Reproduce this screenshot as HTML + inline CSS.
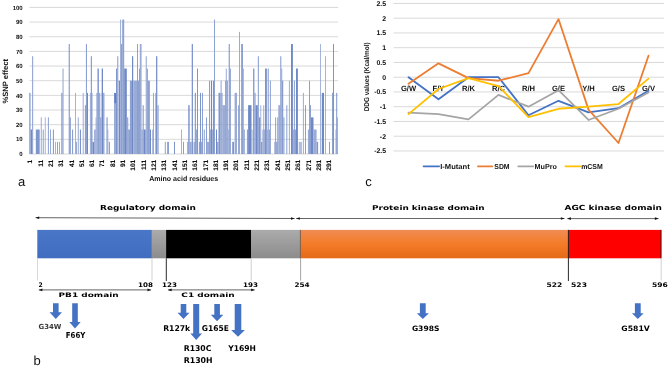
<!DOCTYPE html>
<html><head><meta charset="utf-8"><title>Figure</title>
<style>
html,body{margin:0;padding:0;background:#fff;}
body{width:669px;height:366px;overflow:hidden;}
svg{display:block;font-family:'Liberation Sans', Arial, sans-serif;}
</style></head><body>
<svg width="669" height="366" viewBox="0 0 669 366" font-family='"Liberation Sans", Arial, sans-serif' text-rendering="geometricPrecision">
<rect x="0" y="0" width="669" height="366" fill="#ffffff"/>
<rect x="29.5" y="6.90" width="308.7" height="1" fill="#d9d9d9"/>
<text x="22.7" y="9.55" font-size="6.0" font-weight="bold" text-anchor="end" fill="#111" >100</text>
<rect x="29.5" y="21.56" width="308.7" height="1" fill="#d9d9d9"/>
<text x="22.7" y="24.21" font-size="6.0" font-weight="bold" text-anchor="end" fill="#111" >90</text>
<rect x="29.5" y="36.22" width="308.7" height="1" fill="#d9d9d9"/>
<text x="22.7" y="38.87" font-size="6.0" font-weight="bold" text-anchor="end" fill="#111" >80</text>
<rect x="29.5" y="50.88" width="308.7" height="1" fill="#d9d9d9"/>
<text x="22.7" y="53.53" font-size="6.0" font-weight="bold" text-anchor="end" fill="#111" >70</text>
<rect x="29.5" y="65.54" width="308.7" height="1" fill="#d9d9d9"/>
<text x="22.7" y="68.19" font-size="6.0" font-weight="bold" text-anchor="end" fill="#111" >60</text>
<rect x="29.5" y="80.20" width="308.7" height="1" fill="#d9d9d9"/>
<text x="22.7" y="82.85" font-size="6.0" font-weight="bold" text-anchor="end" fill="#111" >50</text>
<rect x="29.5" y="94.86" width="308.7" height="1" fill="#d9d9d9"/>
<text x="22.7" y="97.51" font-size="6.0" font-weight="bold" text-anchor="end" fill="#111" >40</text>
<rect x="29.5" y="109.52" width="308.7" height="1" fill="#d9d9d9"/>
<text x="22.7" y="112.17" font-size="6.0" font-weight="bold" text-anchor="end" fill="#111" >30</text>
<rect x="29.5" y="124.18" width="308.7" height="1" fill="#d9d9d9"/>
<text x="22.7" y="126.83" font-size="6.0" font-weight="bold" text-anchor="end" fill="#111" >20</text>
<rect x="29.5" y="138.84" width="308.7" height="1" fill="#d9d9d9"/>
<text x="22.7" y="141.49" font-size="6.0" font-weight="bold" text-anchor="end" fill="#111" >10</text>
<rect x="29.5" y="153.50" width="308.7" height="1" fill="#d9d9d9"/>
<text x="22.7" y="156.15" font-size="6.0" font-weight="bold" text-anchor="end" fill="#111" >0</text>
<rect x="29.20" y="92.87" width="1.40" height="61.13" fill="#8ea2d2"/>
<rect x="30.60" y="129.52" width="1.40" height="24.48" fill="#6f89c6"/>
<rect x="32.00" y="56.22" width="1.20" height="97.78" fill="#9aabd6"/>
<rect x="35.80" y="129.52" width="3.90" height="24.48" fill="#7f96cc"/>
<rect x="40.80" y="117.35" width="0.90" height="36.65" fill="#8ea2d2"/>
<rect x="42.80" y="129.52" width="0.80" height="24.48" fill="#6f89c6"/>
<rect x="44.80" y="117.35" width="0.90" height="36.65" fill="#9aabd6"/>
<rect x="47.90" y="117.35" width="0.90" height="36.65" fill="#7f96cc"/>
<rect x="50.10" y="129.52" width="0.90" height="24.48" fill="#8ea2d2"/>
<rect x="52.90" y="129.52" width="0.90" height="24.48" fill="#6f89c6"/>
<rect x="55.10" y="141.83" width="0.90" height="12.17" fill="#9aabd6"/>
<rect x="57.10" y="141.83" width="0.90" height="12.17" fill="#7f96cc"/>
<rect x="59.10" y="141.83" width="0.90" height="12.17" fill="#8ea2d2"/>
<rect x="61.40" y="92.87" width="1.10" height="61.13" fill="#6f89c6"/>
<rect x="62.50" y="68.53" width="1.10" height="85.47" fill="#9aabd6"/>
<rect x="68.70" y="44.05" width="1.10" height="109.95" fill="#7f96cc"/>
<rect x="69.80" y="117.35" width="1.10" height="36.65" fill="#8ea2d2"/>
<rect x="72.20" y="129.52" width="0.90" height="24.48" fill="#6f89c6"/>
<rect x="75.00" y="92.87" width="0.90" height="61.13" fill="#9aabd6"/>
<rect x="75.90" y="141.83" width="0.90" height="12.17" fill="#7f96cc"/>
<rect x="77.80" y="117.35" width="0.90" height="36.65" fill="#8ea2d2"/>
<rect x="79.90" y="129.52" width="1.00" height="24.48" fill="#6f89c6"/>
<rect x="82.70" y="92.87" width="1.00" height="61.13" fill="#9aabd6"/>
<rect x="84.90" y="105.18" width="1.00" height="48.82" fill="#7f96cc"/>
<rect x="85.90" y="44.05" width="1.10" height="109.95" fill="#8ea2d2"/>
<rect x="87.00" y="92.87" width="1.00" height="61.13" fill="#6f89c6"/>
<rect x="89.90" y="92.87" width="0.90" height="61.13" fill="#9aabd6"/>
<rect x="90.80" y="56.22" width="1.10" height="97.78" fill="#7f96cc"/>
<rect x="91.90" y="92.87" width="0.60" height="61.13" fill="#8ea2d2"/>
<rect x="92.50" y="141.83" width="1.60" height="12.17" fill="#6f89c6"/>
<rect x="94.10" y="129.52" width="1.60" height="24.48" fill="#9aabd6"/>
<rect x="95.70" y="117.35" width="0.70" height="36.65" fill="#7f96cc"/>
<rect x="96.40" y="92.87" width="1.10" height="61.13" fill="#8ea2d2"/>
<rect x="97.50" y="68.53" width="1.30" height="85.47" fill="#6f89c6"/>
<rect x="98.80" y="92.87" width="1.50" height="61.13" fill="#9aabd6"/>
<rect x="100.30" y="117.35" width="1.10" height="36.65" fill="#7f96cc"/>
<rect x="101.40" y="92.87" width="0.30" height="61.13" fill="#8ea2d2"/>
<rect x="101.70" y="68.53" width="1.30" height="85.47" fill="#6f89c6"/>
<rect x="103.00" y="92.87" width="1.50" height="61.13" fill="#9aabd6"/>
<rect x="106.50" y="117.35" width="1.10" height="36.65" fill="#7f96cc"/>
<rect x="107.60" y="129.52" width="0.70" height="24.48" fill="#8ea2d2"/>
<rect x="108.90" y="141.83" width="0.90" height="12.17" fill="#6f89c6"/>
<rect x="114.00" y="92.87" width="2.00" height="61.13" fill="#9aabd6"/>
<rect x="116.00" y="68.53" width="1.20" height="85.47" fill="#7f96cc"/>
<rect x="117.20" y="56.22" width="1.10" height="97.78" fill="#8ea2d2"/>
<rect x="118.70" y="80.70" width="1.40" height="73.30" fill="#6f89c6"/>
<rect x="120.10" y="19.57" width="1.00" height="134.43" fill="#9aabd6"/>
<rect x="121.10" y="44.05" width="1.10" height="109.95" fill="#7f96cc"/>
<rect x="122.20" y="19.57" width="2.00" height="134.43" fill="#8ea2d2"/>
<rect x="124.20" y="68.53" width="2.60" height="85.47" fill="#6f89c6"/>
<rect x="126.80" y="117.35" width="1.50" height="36.65" fill="#9aabd6"/>
<rect x="128.30" y="129.52" width="1.60" height="24.48" fill="#7f96cc"/>
<rect x="129.90" y="80.70" width="2.10" height="73.30" fill="#8ea2d2"/>
<rect x="132.00" y="56.22" width="1.20" height="97.78" fill="#6f89c6"/>
<rect x="133.20" y="80.70" width="3.80" height="73.30" fill="#9aabd6"/>
<rect x="137.00" y="44.05" width="0.90" height="109.95" fill="#7f96cc"/>
<rect x="137.90" y="80.70" width="1.10" height="73.30" fill="#8ea2d2"/>
<rect x="139.00" y="68.53" width="0.80" height="85.47" fill="#6f89c6"/>
<rect x="139.80" y="44.05" width="1.80" height="109.95" fill="#9aabd6"/>
<rect x="141.60" y="129.52" width="1.00" height="24.48" fill="#7f96cc"/>
<rect x="142.60" y="105.18" width="1.20" height="48.82" fill="#8ea2d2"/>
<rect x="143.80" y="129.52" width="1.90" height="24.48" fill="#6f89c6"/>
<rect x="145.70" y="56.22" width="1.10" height="97.78" fill="#9aabd6"/>
<rect x="146.80" y="68.53" width="1.00" height="85.47" fill="#7f96cc"/>
<rect x="147.80" y="80.70" width="2.10" height="73.30" fill="#8ea2d2"/>
<rect x="150.00" y="129.52" width="1.00" height="24.48" fill="#6f89c6"/>
<rect x="152.20" y="129.52" width="0.80" height="24.48" fill="#9aabd6"/>
<rect x="153.00" y="92.87" width="0.80" height="61.13" fill="#7f96cc"/>
<rect x="155.30" y="92.87" width="0.80" height="61.13" fill="#8ea2d2"/>
<rect x="156.10" y="56.22" width="1.20" height="97.78" fill="#6f89c6"/>
<rect x="157.30" y="105.18" width="1.40" height="48.82" fill="#9aabd6"/>
<rect x="164.80" y="141.83" width="0.90" height="12.17" fill="#7f96cc"/>
<rect x="167.10" y="141.83" width="1.90" height="12.17" fill="#8ea2d2"/>
<rect x="174.00" y="141.83" width="0.90" height="12.17" fill="#6f89c6"/>
<rect x="181.00" y="129.52" width="0.90" height="24.48" fill="#9aabd6"/>
<rect x="183.00" y="141.83" width="0.90" height="12.17" fill="#7f96cc"/>
<rect x="187.20" y="141.83" width="1.10" height="12.17" fill="#8ea2d2"/>
<rect x="188.30" y="105.18" width="1.30" height="48.82" fill="#6f89c6"/>
<rect x="189.60" y="141.83" width="2.10" height="12.17" fill="#9aabd6"/>
<rect x="191.70" y="44.05" width="1.30" height="109.95" fill="#7f96cc"/>
<rect x="193.60" y="141.83" width="1.20" height="12.17" fill="#8ea2d2"/>
<rect x="194.80" y="92.87" width="1.00" height="61.13" fill="#6f89c6"/>
<rect x="195.80" y="129.52" width="1.20" height="24.48" fill="#9aabd6"/>
<rect x="197.00" y="68.53" width="1.00" height="85.47" fill="#7f96cc"/>
<rect x="198.90" y="141.83" width="1.10" height="12.17" fill="#8ea2d2"/>
<rect x="200.00" y="92.87" width="0.90" height="61.13" fill="#6f89c6"/>
<rect x="200.90" y="141.83" width="1.10" height="12.17" fill="#9aabd6"/>
<rect x="202.00" y="92.87" width="0.90" height="61.13" fill="#7f96cc"/>
<rect x="203.80" y="129.52" width="1.00" height="24.48" fill="#8ea2d2"/>
<rect x="206.00" y="117.35" width="0.80" height="36.65" fill="#6f89c6"/>
<rect x="206.80" y="141.83" width="2.30" height="12.17" fill="#9aabd6"/>
<rect x="209.10" y="80.70" width="1.00" height="73.30" fill="#7f96cc"/>
<rect x="210.10" y="129.52" width="0.90" height="24.48" fill="#8ea2d2"/>
<rect x="211.00" y="80.70" width="1.00" height="73.30" fill="#6f89c6"/>
<rect x="212.00" y="129.52" width="0.90" height="24.48" fill="#9aabd6"/>
<rect x="212.90" y="80.70" width="1.10" height="73.30" fill="#7f96cc"/>
<rect x="214.00" y="19.57" width="1.00" height="134.43" fill="#8ea2d2"/>
<rect x="216.00" y="129.52" width="1.00" height="24.48" fill="#6f89c6"/>
<rect x="217.00" y="141.83" width="1.50" height="12.17" fill="#9aabd6"/>
<rect x="218.50" y="92.87" width="2.10" height="61.13" fill="#7f96cc"/>
<rect x="220.60" y="80.70" width="1.00" height="73.30" fill="#8ea2d2"/>
<rect x="221.60" y="92.87" width="0.80" height="61.13" fill="#6f89c6"/>
<rect x="222.40" y="105.18" width="2.60" height="48.82" fill="#9aabd6"/>
<rect x="225.00" y="80.70" width="0.80" height="73.30" fill="#7f96cc"/>
<rect x="225.80" y="68.53" width="0.90" height="85.47" fill="#8ea2d2"/>
<rect x="226.70" y="80.70" width="1.00" height="73.30" fill="#6f89c6"/>
<rect x="227.70" y="129.52" width="1.00" height="24.48" fill="#9aabd6"/>
<rect x="228.70" y="44.05" width="1.10" height="109.95" fill="#7f96cc"/>
<rect x="229.80" y="68.53" width="1.10" height="85.47" fill="#8ea2d2"/>
<rect x="232.30" y="141.83" width="1.60" height="12.17" fill="#6f89c6"/>
<rect x="234.60" y="92.87" width="2.40" height="61.13" fill="#9aabd6"/>
<rect x="238.20" y="105.18" width="0.90" height="48.82" fill="#7f96cc"/>
<rect x="239.10" y="31.88" width="0.90" height="122.12" fill="#8ea2d2"/>
<rect x="241.30" y="44.05" width="1.50" height="109.95" fill="#6f89c6"/>
<rect x="242.80" y="68.53" width="1.00" height="85.47" fill="#9aabd6"/>
<rect x="243.80" y="129.52" width="0.90" height="24.48" fill="#7f96cc"/>
<rect x="246.90" y="129.52" width="1.20" height="24.48" fill="#8ea2d2"/>
<rect x="248.10" y="105.18" width="3.40" height="48.82" fill="#6f89c6"/>
<rect x="251.50" y="129.52" width="1.00" height="24.48" fill="#9aabd6"/>
<rect x="253.10" y="68.53" width="1.30" height="85.47" fill="#7f96cc"/>
<rect x="254.40" y="92.87" width="1.20" height="61.13" fill="#8ea2d2"/>
<rect x="255.60" y="105.18" width="2.20" height="48.82" fill="#6f89c6"/>
<rect x="257.80" y="56.22" width="1.20" height="97.78" fill="#9aabd6"/>
<rect x="259.00" y="117.35" width="1.40" height="36.65" fill="#7f96cc"/>
<rect x="260.40" y="105.18" width="0.80" height="48.82" fill="#8ea2d2"/>
<rect x="261.20" y="141.83" width="1.20" height="12.17" fill="#6f89c6"/>
<rect x="262.40" y="129.52" width="1.00" height="24.48" fill="#9aabd6"/>
<rect x="263.40" y="105.18" width="0.80" height="48.82" fill="#7f96cc"/>
<rect x="264.20" y="129.52" width="0.90" height="24.48" fill="#8ea2d2"/>
<rect x="265.10" y="68.53" width="1.70" height="85.47" fill="#6f89c6"/>
<rect x="266.80" y="129.52" width="0.90" height="24.48" fill="#9aabd6"/>
<rect x="267.70" y="68.53" width="1.00" height="85.47" fill="#7f96cc"/>
<rect x="268.70" y="129.52" width="1.20" height="24.48" fill="#8ea2d2"/>
<rect x="269.90" y="80.70" width="0.80" height="73.30" fill="#6f89c6"/>
<rect x="274.30" y="141.83" width="0.90" height="12.17" fill="#9aabd6"/>
<rect x="275.20" y="117.35" width="0.90" height="36.65" fill="#7f96cc"/>
<rect x="276.10" y="141.83" width="1.30" height="12.17" fill="#8ea2d2"/>
<rect x="277.40" y="117.35" width="0.90" height="36.65" fill="#6f89c6"/>
<rect x="278.30" y="105.18" width="2.00" height="48.82" fill="#9aabd6"/>
<rect x="280.30" y="56.22" width="1.00" height="97.78" fill="#7f96cc"/>
<rect x="281.30" y="68.53" width="0.90" height="85.47" fill="#8ea2d2"/>
<rect x="282.20" y="80.70" width="1.00" height="73.30" fill="#6f89c6"/>
<rect x="283.20" y="117.35" width="1.30" height="36.65" fill="#9aabd6"/>
<rect x="286.40" y="105.18" width="0.90" height="48.82" fill="#7f96cc"/>
<rect x="288.90" y="80.70" width="0.90" height="73.30" fill="#8ea2d2"/>
<rect x="291.00" y="44.05" width="1.90" height="109.95" fill="#6f89c6"/>
<rect x="292.90" y="129.52" width="1.00" height="24.48" fill="#9aabd6"/>
<rect x="293.90" y="80.70" width="0.90" height="73.30" fill="#7f96cc"/>
<rect x="294.80" y="129.52" width="1.20" height="24.48" fill="#8ea2d2"/>
<rect x="296.00" y="68.53" width="1.90" height="85.47" fill="#6f89c6"/>
<rect x="298.80" y="141.83" width="1.00" height="12.17" fill="#9aabd6"/>
<rect x="300.40" y="141.83" width="1.20" height="12.17" fill="#7f96cc"/>
<rect x="302.90" y="92.87" width="0.90" height="61.13" fill="#8ea2d2"/>
<rect x="305.20" y="105.18" width="0.80" height="48.82" fill="#6f89c6"/>
<rect x="307.90" y="129.52" width="1.20" height="24.48" fill="#9aabd6"/>
<rect x="309.10" y="80.70" width="0.90" height="73.30" fill="#7f96cc"/>
<rect x="310.00" y="105.18" width="1.00" height="48.82" fill="#8ea2d2"/>
<rect x="311.00" y="117.35" width="2.50" height="36.65" fill="#6f89c6"/>
<rect x="313.50" y="129.52" width="3.10" height="24.48" fill="#9aabd6"/>
<rect x="316.60" y="141.83" width="1.50" height="12.17" fill="#7f96cc"/>
<rect x="320.10" y="44.05" width="0.80" height="109.95" fill="#8ea2d2"/>
<rect x="321.80" y="92.87" width="2.20" height="61.13" fill="#6f89c6"/>
<rect x="325.00" y="56.22" width="0.90" height="97.78" fill="#9aabd6"/>
<rect x="329.00" y="141.83" width="0.90" height="12.17" fill="#7f96cc"/>
<rect x="332.00" y="92.87" width="1.10" height="61.13" fill="#8ea2d2"/>
<rect x="333.10" y="44.05" width="0.90" height="109.95" fill="#6f89c6"/>
<rect x="335.50" y="129.52" width="0.70" height="24.48" fill="#9aabd6"/>
<rect x="336.20" y="92.87" width="1.00" height="61.13" fill="#7f96cc"/>
<rect x="337.20" y="117.35" width="0.80" height="36.65" fill="#8ea2d2"/>
<rect x="114.3" y="93.0" width="1.8" height="10.2" fill="#5f7fc5"/>
<text x="32.3" y="159.7" font-size="6.6" font-weight="bold" text-anchor="end" fill="#111" transform="rotate(-90 32.3 159.7)" stroke="#111" stroke-width="0.1" >1</text>
<text x="42.61" y="159.7" font-size="6.6" font-weight="bold" text-anchor="end" fill="#111" transform="rotate(-90 42.61 159.7)" stroke="#111" stroke-width="0.1" >11</text>
<text x="52.92" y="159.7" font-size="6.6" font-weight="bold" text-anchor="end" fill="#111" transform="rotate(-90 52.92 159.7)" stroke="#111" stroke-width="0.1" >21</text>
<text x="63.23" y="159.7" font-size="6.6" font-weight="bold" text-anchor="end" fill="#111" transform="rotate(-90 63.23 159.7)" stroke="#111" stroke-width="0.1" >31</text>
<text x="73.54" y="159.7" font-size="6.6" font-weight="bold" text-anchor="end" fill="#111" transform="rotate(-90 73.54 159.7)" stroke="#111" stroke-width="0.1" >41</text>
<text x="83.85" y="159.7" font-size="6.6" font-weight="bold" text-anchor="end" fill="#111" transform="rotate(-90 83.85 159.7)" stroke="#111" stroke-width="0.1" >51</text>
<text x="94.16" y="159.7" font-size="6.6" font-weight="bold" text-anchor="end" fill="#111" transform="rotate(-90 94.16 159.7)" stroke="#111" stroke-width="0.1" >61</text>
<text x="104.47" y="159.7" font-size="6.6" font-weight="bold" text-anchor="end" fill="#111" transform="rotate(-90 104.47 159.7)" stroke="#111" stroke-width="0.1" >71</text>
<text x="114.78" y="159.7" font-size="6.6" font-weight="bold" text-anchor="end" fill="#111" transform="rotate(-90 114.78 159.7)" stroke="#111" stroke-width="0.1" >81</text>
<text x="125.09" y="159.7" font-size="6.6" font-weight="bold" text-anchor="end" fill="#111" transform="rotate(-90 125.09 159.7)" stroke="#111" stroke-width="0.1" >91</text>
<text x="135.4" y="159.7" font-size="6.6" font-weight="bold" text-anchor="end" fill="#111" transform="rotate(-90 135.4 159.7)" stroke="#111" stroke-width="0.1" >101</text>
<text x="145.71" y="159.7" font-size="6.6" font-weight="bold" text-anchor="end" fill="#111" transform="rotate(-90 145.71 159.7)" stroke="#111" stroke-width="0.1" >111</text>
<text x="156.02" y="159.7" font-size="6.6" font-weight="bold" text-anchor="end" fill="#111" transform="rotate(-90 156.02 159.7)" stroke="#111" stroke-width="0.1" >121</text>
<text x="166.33" y="159.7" font-size="6.6" font-weight="bold" text-anchor="end" fill="#111" transform="rotate(-90 166.33 159.7)" stroke="#111" stroke-width="0.1" >131</text>
<text x="176.64" y="159.7" font-size="6.6" font-weight="bold" text-anchor="end" fill="#111" transform="rotate(-90 176.64 159.7)" stroke="#111" stroke-width="0.1" >141</text>
<text x="186.95" y="159.7" font-size="6.6" font-weight="bold" text-anchor="end" fill="#111" transform="rotate(-90 186.95 159.7)" stroke="#111" stroke-width="0.1" >151</text>
<text x="197.26" y="159.7" font-size="6.6" font-weight="bold" text-anchor="end" fill="#111" transform="rotate(-90 197.26 159.7)" stroke="#111" stroke-width="0.1" >161</text>
<text x="207.57" y="159.7" font-size="6.6" font-weight="bold" text-anchor="end" fill="#111" transform="rotate(-90 207.57 159.7)" stroke="#111" stroke-width="0.1" >171</text>
<text x="217.88" y="159.7" font-size="6.6" font-weight="bold" text-anchor="end" fill="#111" transform="rotate(-90 217.88 159.7)" stroke="#111" stroke-width="0.1" >181</text>
<text x="228.19" y="159.7" font-size="6.6" font-weight="bold" text-anchor="end" fill="#111" transform="rotate(-90 228.19 159.7)" stroke="#111" stroke-width="0.1" >191</text>
<text x="238.5" y="159.7" font-size="6.6" font-weight="bold" text-anchor="end" fill="#111" transform="rotate(-90 238.5 159.7)" stroke="#111" stroke-width="0.1" >201</text>
<text x="248.81" y="159.7" font-size="6.6" font-weight="bold" text-anchor="end" fill="#111" transform="rotate(-90 248.81 159.7)" stroke="#111" stroke-width="0.1" >211</text>
<text x="259.12" y="159.7" font-size="6.6" font-weight="bold" text-anchor="end" fill="#111" transform="rotate(-90 259.12 159.7)" stroke="#111" stroke-width="0.1" >221</text>
<text x="269.43" y="159.7" font-size="6.6" font-weight="bold" text-anchor="end" fill="#111" transform="rotate(-90 269.43 159.7)" stroke="#111" stroke-width="0.1" >231</text>
<text x="279.74" y="159.7" font-size="6.6" font-weight="bold" text-anchor="end" fill="#111" transform="rotate(-90 279.74 159.7)" stroke="#111" stroke-width="0.1" >241</text>
<text x="290.05" y="159.7" font-size="6.6" font-weight="bold" text-anchor="end" fill="#111" transform="rotate(-90 290.05 159.7)" stroke="#111" stroke-width="0.1" >251</text>
<text x="300.36" y="159.7" font-size="6.6" font-weight="bold" text-anchor="end" fill="#111" transform="rotate(-90 300.36 159.7)" stroke="#111" stroke-width="0.1" >261</text>
<text x="310.67" y="159.7" font-size="6.6" font-weight="bold" text-anchor="end" fill="#111" transform="rotate(-90 310.67 159.7)" stroke="#111" stroke-width="0.1" >271</text>
<text x="320.98" y="159.7" font-size="6.6" font-weight="bold" text-anchor="end" fill="#111" transform="rotate(-90 320.98 159.7)" stroke="#111" stroke-width="0.1" >281</text>
<text x="331.29" y="159.7" font-size="6.6" font-weight="bold" text-anchor="end" fill="#111" transform="rotate(-90 331.29 159.7)" stroke="#111" stroke-width="0.1" >291</text>
<text x="183.7" y="181.0" font-size="7.2" font-weight="bold" text-anchor="middle" fill="#111" textLength="69" lengthAdjust="spacingAndGlyphs" >Amino acid residues</text>
<text x="7.7" y="81.2" font-size="7.7" font-weight="bold" text-anchor="middle" fill="#111" textLength="44.5" lengthAdjust="spacingAndGlyphs" transform="rotate(-90 7.7 81.2)" >%SNP effect</text>
<text x="18.0" y="185.7" font-size="13" font-weight="normal" text-anchor="start" fill="#111" >a</text>
<rect x="393.5" y="2.95" width="270.5" height="1" fill="#d9d9d9"/>
<text x="386.0" y="5.85" font-size="6.9" font-weight="bold" text-anchor="end" fill="#111" >2.5</text>
<rect x="393.5" y="17.70" width="270.5" height="1" fill="#d9d9d9"/>
<text x="386.0" y="20.6" font-size="6.9" font-weight="bold" text-anchor="end" fill="#111" >2</text>
<rect x="393.5" y="32.45" width="270.5" height="1" fill="#d9d9d9"/>
<text x="386.0" y="35.35" font-size="6.9" font-weight="bold" text-anchor="end" fill="#111" >1.5</text>
<rect x="393.5" y="47.20" width="270.5" height="1" fill="#d9d9d9"/>
<text x="386.0" y="50.1" font-size="6.9" font-weight="bold" text-anchor="end" fill="#111" >1</text>
<rect x="393.5" y="61.95" width="270.5" height="1" fill="#d9d9d9"/>
<text x="386.0" y="64.85" font-size="6.9" font-weight="bold" text-anchor="end" fill="#111" >0.5</text>
<rect x="393.5" y="76.70" width="270.5" height="1" fill="#d9d9d9"/>
<text x="386.0" y="79.6" font-size="6.9" font-weight="bold" text-anchor="end" fill="#111" >0</text>
<rect x="393.5" y="91.45" width="270.5" height="1" fill="#d9d9d9"/>
<text x="386.0" y="94.35" font-size="6.9" font-weight="bold" text-anchor="end" fill="#111" >-0.5</text>
<rect x="393.5" y="106.20" width="270.5" height="1" fill="#d9d9d9"/>
<text x="386.0" y="109.1" font-size="6.9" font-weight="bold" text-anchor="end" fill="#111" >-1</text>
<rect x="393.5" y="120.95" width="270.5" height="1" fill="#d9d9d9"/>
<text x="386.0" y="123.85" font-size="6.9" font-weight="bold" text-anchor="end" fill="#111" >-1.5</text>
<rect x="393.5" y="135.70" width="270.5" height="1" fill="#d9d9d9"/>
<text x="386.0" y="138.6" font-size="6.9" font-weight="bold" text-anchor="end" fill="#111" >-2</text>
<rect x="393.5" y="150.45" width="270.5" height="1" fill="#d9d9d9"/>
<text x="386.0" y="153.35" font-size="6.9" font-weight="bold" text-anchor="end" fill="#111" >-2.5</text>
<text x="408.5" y="90.5" font-size="7.6" font-weight="bold" text-anchor="middle" fill="#111" >G/W</text>
<text x="438.5" y="90.5" font-size="7.6" font-weight="bold" text-anchor="middle" fill="#111" >F/Y</text>
<text x="468.5" y="90.5" font-size="7.6" font-weight="bold" text-anchor="middle" fill="#111" >R/K</text>
<text x="498.5" y="90.5" font-size="7.6" font-weight="bold" text-anchor="middle" fill="#111" >R/C</text>
<text x="528.5" y="90.5" font-size="7.6" font-weight="bold" text-anchor="middle" fill="#111" >R/H</text>
<text x="558.5" y="90.5" font-size="7.6" font-weight="bold" text-anchor="middle" fill="#111" >G/E</text>
<text x="588.5" y="90.5" font-size="7.6" font-weight="bold" text-anchor="middle" fill="#111" >Y/H</text>
<text x="618.5" y="90.5" font-size="7.6" font-weight="bold" text-anchor="middle" fill="#111" >G/S</text>
<text x="648.5" y="90.5" font-size="7.6" font-weight="bold" text-anchor="middle" fill="#111" >G/V</text>
<polyline points="408.5,77.20 438.5,99.33 468.5,77.20 498.5,77.20 528.5,115.25 558.5,100.80 588.5,112.31 618.5,108.18 648.5,90.77" fill="none" stroke="#4472c4" stroke-width="1.8" stroke-linejoin="round" stroke-linecap="round"/>
<polyline points="408.5,83.69 438.5,63.34 468.5,78.09 498.5,80.74 528.5,73.07 558.5,19.09 588.5,109.65 618.5,142.99 648.5,55.67" fill="none" stroke="#ed7d31" stroke-width="1.8" stroke-linejoin="round" stroke-linecap="round"/>
<polyline points="408.5,112.60 438.5,114.08 468.5,119.38 498.5,94.90 528.5,106.70 558.5,90.18 588.5,119.97 618.5,108.77 648.5,92.54" fill="none" stroke="#a5a5a5" stroke-width="1.8" stroke-linejoin="round" stroke-linecap="round"/>
<polyline points="408.5,114.08 438.5,89.00 468.5,78.09 498.5,86.05 528.5,117.03 558.5,108.77 588.5,106.70 618.5,104.05 648.5,78.67" fill="none" stroke="#ffc000" stroke-width="1.8" stroke-linejoin="round" stroke-linecap="round"/>
<text x="369.2" y="76.8" font-size="7.0" font-weight="bold" text-anchor="middle" fill="#111" textLength="69" lengthAdjust="spacingAndGlyphs" transform="rotate(-90 369.2 76.8)" >DDG values (Kcal/mol)</text>
<line x1="423.5" y1="166.3" x2="439.2" y2="166.3" stroke="#4472c4" stroke-width="1.7" stroke-linecap="round"/>
<text x="440.2" y="168.8" font-size="7.2" font-weight="bold" text-anchor="start" fill="#111" textLength="29.6" lengthAdjust="spacingAndGlyphs" >I-Mutant</text>
<line x1="477.9" y1="166.3" x2="492.4" y2="166.3" stroke="#ed7d31" stroke-width="1.7" stroke-linecap="round"/>
<text x="494.3" y="168.8" font-size="7.2" font-weight="bold" text-anchor="start" fill="#111" textLength="15.3" lengthAdjust="spacingAndGlyphs" >SDM</text>
<line x1="518.2" y1="166.3" x2="533.3" y2="166.3" stroke="#a5a5a5" stroke-width="1.7" stroke-linecap="round"/>
<text x="534.6" y="168.8" font-size="7.2" font-weight="bold" text-anchor="start" fill="#111" textLength="22.4" lengthAdjust="spacingAndGlyphs" >MuPro</text>
<line x1="565.4" y1="166.3" x2="580.4" y2="166.3" stroke="#ffc000" stroke-width="1.7" stroke-linecap="round"/>
<text x="581.2" y="168.8" font-size="7.2" font-weight="bold" text-anchor="start" fill="#111" textLength="21.6" lengthAdjust="spacingAndGlyphs" >mCSM</text>
<text x="365.3" y="185.9" font-size="13" font-weight="normal" text-anchor="start" fill="#111" >c</text>
<defs>
<linearGradient id="gO" x1="0" y1="0" x2="0" y2="1"><stop offset="0" stop-color="#f08c54"/><stop offset="0.5" stop-color="#f47b28"/><stop offset="1" stop-color="#e66a17"/></linearGradient>
<linearGradient id="gG" x1="0" y1="0" x2="0" y2="1"><stop offset="0" stop-color="#ababab"/><stop offset="1" stop-color="#8c8c8c"/></linearGradient>
<linearGradient id="gB" x1="0" y1="0" x2="0" y2="1"><stop offset="0" stop-color="#4a76c8"/><stop offset="1" stop-color="#416dc0"/></linearGradient>
</defs>
<rect x="37.3" y="229.9" width="114.6" height="28.4" fill="url(#gB)"/>
<rect x="151.9" y="229.9" width="14.2" height="28.4" fill="url(#gG)"/>
<rect x="166.1" y="229.9" width="84.9" height="28.4" fill="#000"/>
<rect x="251.0" y="229.9" width="49.6" height="28.4" fill="url(#gG)"/>
<rect x="300.6" y="229.9" width="267.8" height="28.4" fill="url(#gO)"/>
<rect x="568.4" y="229.9" width="92.8" height="28.4" fill="#fe0000"/>
<line x1="300.4" y1="229.9" x2="300.4" y2="258.3" stroke="#6b4a33" stroke-width="0.8"/>
<line x1="568.4" y1="229.9" x2="568.4" y2="281" stroke="#111" stroke-width="0.9"/>
<line x1="661.0" y1="229.9" x2="661.0" y2="258.3" stroke="#400" stroke-width="0.9"/>
<line x1="37.5" y1="258.3" x2="37.5" y2="280.5" stroke="#cfcfcf" stroke-width="0.8"/>
<line x1="152.0" y1="258.3" x2="152.0" y2="280.5" stroke="#c4c4c4" stroke-width="0.8"/>
<line x1="251.2" y1="258.3" x2="251.2" y2="280.5" stroke="#c4c4c4" stroke-width="0.8"/>
<line x1="300.6" y1="258.3" x2="300.6" y2="280.5" stroke="#9a9a9a" stroke-width="0.9"/>
<line x1="661.2" y1="258.3" x2="661.2" y2="280.5" stroke="#c8c8c8" stroke-width="0.8"/>
<line x1="166.3" y1="258.3" x2="166.3" y2="281" stroke="#111" stroke-width="0.9"/>
<text x="38.5" y="286.5" font-size="6.3" font-weight="bold" text-anchor="start" fill="#000" textLength="4.2" lengthAdjust="spacingAndGlyphs" font-family="DejaVu Sans, Liberation Sans, sans-serif">2</text>
<text x="138.0" y="286.5" font-size="6.3" font-weight="bold" text-anchor="start" fill="#000" textLength="15.0" lengthAdjust="spacingAndGlyphs" font-family="DejaVu Sans, Liberation Sans, sans-serif">108</text>
<text x="162.0" y="286.5" font-size="6.3" font-weight="bold" text-anchor="start" fill="#000" textLength="15.0" lengthAdjust="spacingAndGlyphs" font-family="DejaVu Sans, Liberation Sans, sans-serif">123</text>
<text x="243.0" y="286.5" font-size="6.3" font-weight="bold" text-anchor="start" fill="#000" textLength="15.0" lengthAdjust="spacingAndGlyphs" font-family="DejaVu Sans, Liberation Sans, sans-serif">193</text>
<text x="294.4" y="286.5" font-size="6.3" font-weight="bold" text-anchor="start" fill="#000" textLength="15.2" lengthAdjust="spacingAndGlyphs" font-family="DejaVu Sans, Liberation Sans, sans-serif">254</text>
<text x="546.5" y="286.5" font-size="6.3" font-weight="bold" text-anchor="start" fill="#000" textLength="15.8" lengthAdjust="spacingAndGlyphs" font-family="DejaVu Sans, Liberation Sans, sans-serif">522</text>
<text x="571.0" y="286.5" font-size="6.3" font-weight="bold" text-anchor="start" fill="#000" textLength="16.0" lengthAdjust="spacingAndGlyphs" font-family="DejaVu Sans, Liberation Sans, sans-serif">523</text>
<text x="652.0" y="286.5" font-size="6.3" font-weight="bold" text-anchor="start" fill="#000" textLength="15.8" lengthAdjust="spacingAndGlyphs" font-family="DejaVu Sans, Liberation Sans, sans-serif">596</text>
<line x1="35.6" y1="217.7" x2="294.6" y2="218.5" stroke="#222" stroke-width="0.7"/>
<polygon points="35.6,217.7 39.2,216.4 39.2,219.0" fill="#111"/>
<polygon points="294.6,218.5 291.0,217.2 291.0,219.8" fill="#111"/>
<line x1="296.2" y1="218.5" x2="564.5" y2="218.5" stroke="#222" stroke-width="0.7"/>
<polygon points="296.2,218.5 299.8,217.2 299.8,219.8" fill="#111"/>
<polygon points="564.5,218.5 560.9,217.2 560.9,219.8" fill="#111"/>
<line x1="567.3" y1="218.6" x2="658.5" y2="218.6" stroke="#222" stroke-width="0.7"/>
<polygon points="567.3,218.6 570.9,217.29999999999998 570.9,219.9" fill="#111"/>
<polygon points="658.5,218.6 654.9,217.29999999999998 654.9,219.9" fill="#111"/>
<line x1="38.8" y1="289.9" x2="151.1" y2="289.9" stroke="#222" stroke-width="0.7"/>
<polygon points="38.8,289.9 42.4,288.59999999999997 42.4,291.2" fill="#111"/>
<polygon points="151.1,289.9 147.5,288.59999999999997 147.5,291.2" fill="#111"/>
<line x1="168.0" y1="289.9" x2="254.7" y2="289.9" stroke="#222" stroke-width="0.7"/>
<polygon points="168.0,289.9 171.6,288.59999999999997 171.6,291.2" fill="#111"/>
<polygon points="254.7,289.9 251.1,288.59999999999997 251.1,291.2" fill="#111"/>
<text x="100.0" y="210.1" font-size="7.0" font-weight="bold" text-anchor="start" fill="#000" textLength="96" lengthAdjust="spacingAndGlyphs" font-family="DejaVu Sans, Liberation Sans, sans-serif">Regulatory domain</text>
<text x="372.1" y="210.0" font-size="6.6" font-weight="bold" text-anchor="start" fill="#000" textLength="112.6" lengthAdjust="spacingAndGlyphs" font-family="DejaVu Sans, Liberation Sans, sans-serif">Protein kinase domain</text>
<text x="564.5" y="210.4" font-size="7.0" font-weight="bold" text-anchor="start" fill="#000" textLength="97.5" lengthAdjust="spacingAndGlyphs" font-family="DejaVu Sans, Liberation Sans, sans-serif">AGC kinase domain</text>
<text x="58.5" y="297.0" font-size="6.1" font-weight="bold" text-anchor="start" fill="#000" textLength="60.2" lengthAdjust="spacingAndGlyphs" font-family="DejaVu Sans, Liberation Sans, sans-serif">PB1 domain</text>
<text x="181.3" y="297.3" font-size="6.1" font-weight="bold" text-anchor="start" fill="#000" textLength="53.4" lengthAdjust="spacingAndGlyphs" font-family="DejaVu Sans, Liberation Sans, sans-serif">C1 domain</text>
<polygon points="53.0,303.2 58.6,303.2 58.6,312.3 62.0,312.3 55.8,319.0 49.5,312.3 53.0,312.3" fill="#4472c4"/>
<polygon points="72.2,303.2 77.8,303.2 77.8,321.9 80.7,321.9 75.0,328.4 69.3,321.9 72.2,321.9" fill="#4472c4"/>
<polygon points="180.7,303.9 186.3,303.9 186.3,312.8 189.5,312.8 183.5,319.0 177.5,312.8 180.7,312.8" fill="#4472c4"/>
<polygon points="193.2,303.9 199.2,303.9 199.2,333.5 202.0,333.5 196.2,340.0 190.4,333.5 193.2,333.5" fill="#4472c4"/>
<polygon points="214.3,303.9 219.9,303.9 219.9,314.7 223.3,314.7 217.1,321.2 210.8,314.7 214.3,314.7" fill="#4472c4"/>
<polygon points="234.7,303.9 241.3,303.9 241.3,329.9 244.9,329.9 238.0,336.8 231.1,329.9 234.7,329.9" fill="#4472c4"/>
<polygon points="419.9,303.2 425.7,303.2 425.7,313.3 428.9,313.3 422.8,319.0 416.8,313.3 419.9,313.3" fill="#4472c4"/>
<polygon points="634.9,303.2 640.7,303.2 640.7,313.3 643.7,313.3 637.8,319.0 631.9,313.3 634.9,313.3" fill="#4472c4"/>
<text x="38.5" y="328.6" font-size="7.0" font-weight="bold" text-anchor="start" fill="#3a3a3a" textLength="22.9" lengthAdjust="spacingAndGlyphs" font-family="DejaVu Sans, Liberation Sans, sans-serif">G34W</text>
<text x="65.8" y="337.8" font-size="8.2" font-weight="bold" text-anchor="start" fill="#000" textLength="19.5" lengthAdjust="spacingAndGlyphs" font-family="DejaVu Sans, Liberation Sans, sans-serif">F66Y</text>
<text x="163.2" y="330.8" font-size="8.0" font-weight="bold" text-anchor="start" fill="#000" textLength="27.0" lengthAdjust="spacingAndGlyphs" font-family="DejaVu Sans, Liberation Sans, sans-serif">R127k</text>
<text x="201.7" y="330.8" font-size="8.0" font-weight="bold" text-anchor="start" fill="#000" textLength="27.2" lengthAdjust="spacingAndGlyphs" font-family="DejaVu Sans, Liberation Sans, sans-serif">G165E</text>
<text x="183.7" y="350.6" font-size="8.0" font-weight="bold" text-anchor="start" fill="#000" textLength="27.7" lengthAdjust="spacingAndGlyphs" font-family="DejaVu Sans, Liberation Sans, sans-serif">R130C</text>
<text x="183.7" y="362.6" font-size="8.0" font-weight="bold" text-anchor="start" fill="#000" textLength="28.9" lengthAdjust="spacingAndGlyphs" font-family="DejaVu Sans, Liberation Sans, sans-serif">R130H</text>
<text x="228.2" y="350.6" font-size="8.0" font-weight="bold" text-anchor="start" fill="#000" textLength="27.7" lengthAdjust="spacingAndGlyphs" font-family="DejaVu Sans, Liberation Sans, sans-serif">Y169H</text>
<text x="411.9" y="331.0" font-size="7.4" font-weight="bold" text-anchor="start" fill="#000" textLength="27.5" lengthAdjust="spacingAndGlyphs" font-family="DejaVu Sans, Liberation Sans, sans-serif">G398S</text>
<text x="621.3" y="331.0" font-size="7.4" font-weight="bold" text-anchor="start" fill="#000" textLength="28.5" lengthAdjust="spacingAndGlyphs" font-family="DejaVu Sans, Liberation Sans, sans-serif">G581V</text>
<text x="33.6" y="364.5" font-size="13" font-weight="normal" text-anchor="start" fill="#111" >b</text>
</svg>
</body></html>
